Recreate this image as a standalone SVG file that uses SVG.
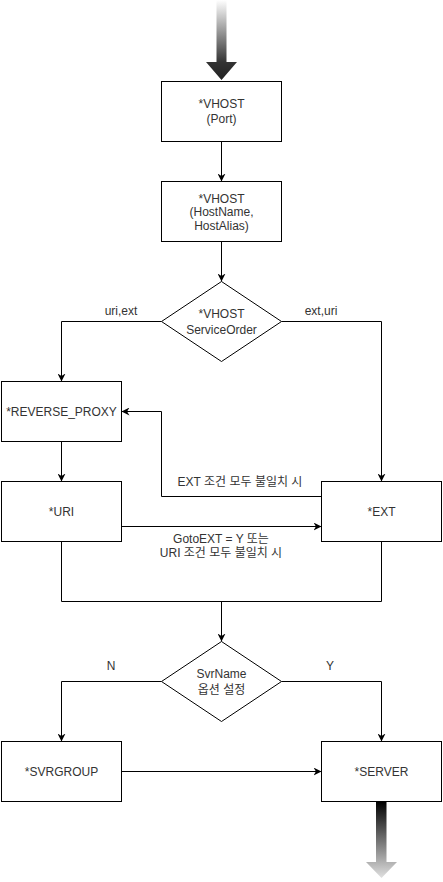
<svg xmlns="http://www.w3.org/2000/svg" width="443" height="882" viewBox="0 0 443 882">
<style>
.box{fill:#fff;stroke:#000;stroke-width:1}
.ln{fill:none;stroke:#000;stroke-width:1}
text{font-family:"Liberation Sans","Noto Sans CJK KR",sans-serif;font-size:12px;fill:#333;text-anchor:middle}
</style>
<defs>
<marker id="arr" viewBox="0 0 10 10" refX="10" refY="5" markerWidth="8" markerHeight="8" markerUnits="userSpaceOnUse" orient="auto">
<path d="M0,0 L10,5 L0,10 L3,5 Z" fill="#000"/>
</marker>
<linearGradient id="gTop" x1="0" y1="0" x2="0" y2="1">
<stop offset="0" stop-color="#fff"/>
<stop offset="0.78" stop-color="#333"/>
<stop offset="1" stop-color="#222"/>
</linearGradient>
<linearGradient id="gBot" x1="0" y1="0" x2="0" y2="1">
<stop offset="0" stop-color="#000"/>
<stop offset="1" stop-color="#e0e0e0"/>
</linearGradient>
</defs>
<g id="connectors">
<polygon points="216.5,0 226.5,0 226.5,62 237,62 221.5,80 206,62 216.5,62" fill="url(#gTop)"/>
<path class="ln" d="M221.5,141.5 L221.5,181.5" marker-end="url(#arr)"/>
<path class="ln" d="M221.5,241.5 L221.5,281.5" marker-end="url(#arr)"/>
<path class="ln" d="M161.5,321.5 L61.5,321.5 L61.5,381.5" marker-end="url(#arr)"/>
<path class="ln" d="M281.5,321.5 L381.5,321.5 L381.5,481.5" marker-end="url(#arr)"/>
<path class="ln" d="M61.5,441.5 L61.5,481.5" marker-end="url(#arr)"/>
<path class="ln" d="M321.5,496.5 L161.5,496.5 L161.5,411.5 L121.5,411.5" marker-end="url(#arr)"/>
<path class="ln" d="M121.5,526.5 L321.5,526.5" marker-end="url(#arr)"/>
<path class="ln" d="M61.5,541.5 L61.5,601.5 L381.5,601.5 L381.5,541.5"/>
<path class="ln" d="M221.5,601.5 L221.5,641.5" marker-end="url(#arr)"/>
<path class="ln" d="M161.5,681.5 L61.5,681.5 L61.5,741.5" marker-end="url(#arr)"/>
<path class="ln" d="M281.5,681.5 L381.5,681.5 L381.5,741.5" marker-end="url(#arr)"/>
<path class="ln" d="M121.5,771.5 L321.5,771.5" marker-end="url(#arr)"/>
<polygon points="376,801.5 386.5,801.5 386.5,862 397,862 381.5,878 366,862 376,862" fill="url(#gBot)"/>
<text x="121" y="315">uri,ext</text>
<text x="321" y="315">ext,uri</text>
<text x="240" y="486">EXT 조건 모두 불일치 시</text>
<text x="221" y="543">GotoEXT = Y 또는</text>
<text x="221" y="557">URI 조건 모두 불일치 시</text>
<text x="111" y="670">N</text>
<text x="330" y="670">Y</text>
</g>
<g id="vhost-port">
<rect class="box" x="161.5" y="81.5" width="120" height="60"/>
<text x="221.5" y="107.5">*VHOST</text>
<text x="221.5" y="123">(Port)</text>
</g>
<g id="vhost-hostname">
<rect class="box" x="161.5" y="181.5" width="120" height="60"/>
<text x="221.5" y="202.5">*VHOST</text>
<text x="221.5" y="216">(HostName,</text>
<text x="221.5" y="229.5">HostAlias)</text>
</g>
<g id="vhost-serviceorder">
<polygon class="box" points="221.5,281.5 281.5,321.5 221.5,361.5 161.5,321.5"/>
<text x="221.5" y="318">*VHOST</text>
<text x="221.5" y="334">ServiceOrder</text>
</g>
<g id="reverse-proxy">
<rect class="box" x="1.5" y="381.5" width="120" height="60"/>
<text x="61.5" y="415.5">*REVERSE_PROXY</text>
</g>
<g id="uri">
<rect class="box" x="1.5" y="481.5" width="120" height="60"/>
<text x="61.5" y="515.5">*URI</text>
</g>
<g id="ext">
<rect class="box" x="321.5" y="481.5" width="120" height="60"/>
<text x="381.5" y="515.5">*EXT</text>
</g>
<g id="svrname">
<polygon class="box" points="221.5,641.5 281.5,681.5 221.5,721.5 161.5,681.5"/>
<text x="221.5" y="678">SvrName</text>
<text x="221.5" y="694">옵션 설정</text>
</g>
<g id="svrgroup">
<rect class="box" x="1.5" y="741.5" width="120" height="60"/>
<text x="61.5" y="775.5">*SVRGROUP</text>
</g>
<g id="server">
<rect class="box" x="321.5" y="741.5" width="120" height="60"/>
<text x="381.5" y="775.5">*SERVER</text>
</g>
</svg>
